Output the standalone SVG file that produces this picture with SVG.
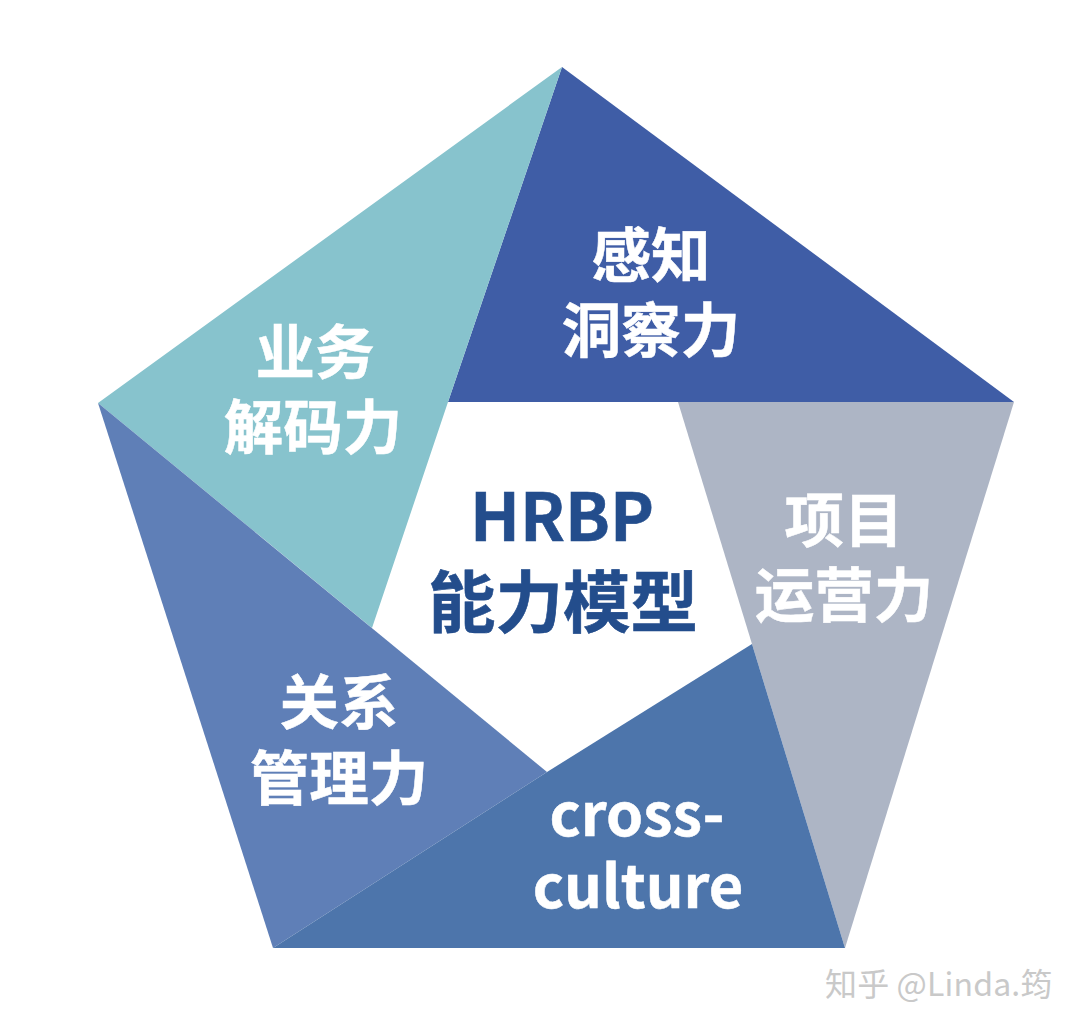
<svg xmlns="http://www.w3.org/2000/svg" width="1080" height="1029" viewBox="0 0 1080 1029">
<style>
.l{font-family:"Noto Sans CJK SC","Noto Sans",sans-serif;font-weight:700;fill:#fff;text-anchor:middle;font-size:59.5px;stroke:#fff;stroke-width:.5px}
.e{font-size:59.5px}
.c{font-family:"Noto Sans CJK SC","Noto Sans",sans-serif;font-weight:700;fill:#234d8c;text-anchor:middle;stroke:#234d8c;stroke-width:.6px}
.w{font-family:"Noto Sans CJK SC","Noto Sans",sans-serif;fill:#c9c9c9;font-size:32px;letter-spacing:.15px}
</style>
<rect width="1080" height="1029" fill="#fff"/>
<g id="seg-ganzhi"><polygon points="562,67 1014,402 448,402" fill="#3f5da6"/><text class="l" x="651" y="277">感知</text><text class="l" x="651" y="352">洞察力</text></g>
<g id="seg-yewu"><polygon points="562,67 448,402 372,628 98,403" fill="#87c3cd"/><text class="l" x="315" y="374">业务</text><text class="l" x="313" y="449">解码力</text></g>
<g id="seg-xiangmu"><polygon points="1014,402 845,948 752,644 678,402" fill="#adb5c5"/><text class="l" x="844" y="542">项目</text><text class="l" x="844" y="617">运营力</text></g>
<g id="seg-guanxi"><polygon points="98,403 547,772 273,948" fill="#5f7fb7"/><text class="l" x="339" y="724">关系</text><text class="l" x="339" y="800">管理力</text></g>
<g id="seg-cross"><polygon points="752,644 845,948 273,948 547,772" fill="#4d75ab"/><text class="l e" x="637" y="836">cross-</text><text class="l e" x="638" y="908">culture</text></g>
<g id="center"><text class="c" x="562" y="541" font-size="66">HRBP</text><text class="c" x="563" y="627" font-size="67.5">能力模型</text></g>
<g id="watermark"><text class="w" x="825" y="996">知乎 @Linda.筠</text></g>
</svg>
